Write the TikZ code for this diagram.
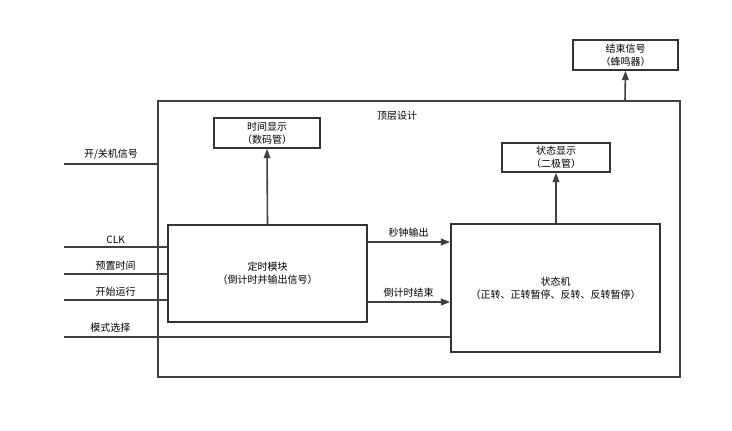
\documentclass[tikz,border=0pt]{standalone}
\usepackage{fontspec}
\setmainfont{Noto Sans CJK SC}
\usetikzlibrary{arrows.meta}
\begin{document}
\begin{tikzpicture}[x=0.75pt,y=-0.75pt,
  box/.style={draw=black!80,line width=1.2pt,align=center,inner sep=0pt},
  ln/.style={draw=black!75,line width=1.2pt},
  arr/.style={ln,-{Triangle[length=7pt,width=5pt]}},
  lab/.style={font=\fontsize{7.5}{10}\selectfont,inner sep=1pt}]
\useasboundingbox (0,0) rectangle (732,430);
\draw[ln,fill=white] (158,101) rectangle (680,377);
\node[lab] (title) at (397,116) {顶层设计};
\node[box,minimum width=105pt*0.75/0.75,minimum width=78.75pt,minimum height=22.5pt,font=\fontsize{7.5}{10}\selectfont] (end) at (625.5,55) {结束信号\\（蜂鸣器）};
\node[box,minimum width=79.5pt,minimum height=22.5pt,font=\fontsize{7.5}{10}\selectfont] (tdisp) at (267,133) {时间显示\\（数码管）};
\node[box,minimum width=81pt,minimum height=21.75pt,font=\fontsize{7.5}{10}\selectfont] (sdisp) at (556,157.5) {状态显示\\（二极管）};
\node[box,minimum width=149.25pt,minimum height=72.75pt,font=\fontsize{7.5}{10}\selectfont] (timer) at (267.5,273.5) {定时模块\\（倒计时并输出信号）};
\node[box,minimum width=156.75pt,minimum height=96pt,font=\fontsize{7.5}{10}\selectfont] (fsm) at (555.5,288) {状态机\\（正转、正转暂停、反转、反转暂停）};
\coordinate (top) at (625,101);
\draw[arr] (top) -- (end.south);
\draw[arr] (timer.north) -- (tdisp.south);
\draw[arr] (fsm.north -| sdisp) -- (sdisp.south);
\coordinate (s1) at (367,242); \coordinate (s2) at (367,302);
\draw[arr] (s1) -- (s1 -| fsm.west) node[lab,midway,above=2pt] {秒钟输出};
\draw[arr] (s2) -- (s2 -| fsm.west) node[lab,midway,above=2pt] {倒计时结束};
\coordinate (i0) at (64,164); \coordinate (i1) at (64,247); \coordinate (i2) at (64,274);
\coordinate (i3) at (64,300); \coordinate (i4) at (64,337);
\draw[ln] (i0) -- (158,164) node[lab,midway,above=2pt] {开/关机信号};
\draw[ln] (i1) -- (i1 -| timer.west) node[lab,midway,above=1pt] {CLK};
\draw[ln] (i2) -- (i2 -| timer.west) node[lab,midway,above=1pt] {预置时间};
\draw[ln] (i3) -- (i3 -| timer.west) node[lab,midway,above=1pt] {开始运行};
\draw[ln] (i4) -- (i4 -| fsm.west) node[lab,pos=0.12,above=2pt] {模式选择};
\end{tikzpicture}
\end{document}
